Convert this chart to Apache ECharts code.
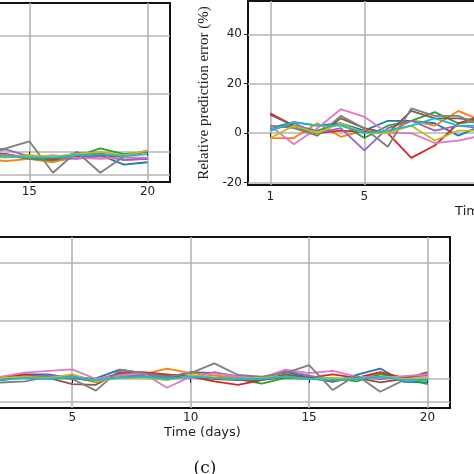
<!DOCTYPE html>
<html>
<head>
<meta charset="utf-8">
<script src="https://cdn.jsdelivr.net/npm/echarts@6/dist/echarts.min.js"></script>
<style>
  html, body { margin: 0; padding: 0; background: #fff; }
  #chart { width: 474px; height: 474px; }
</style>
</head>
<body>
<div id="chart"></div>
<script>
// days on the x axis, shared by all three panels
const days = [1, 2, 3, 4, 5, 6, 7, 8, 9, 10, 11, 12, 13, 14, 15, 16, 17, 18, 19, 20];
const xTicks = [1, 5, 10, 15, 20];
const yTicksWide = [-20, 0, 50, 100];
const yTicksNarrow = [-20, 0, 20, 40];
const colors = ['#1f77b4', '#ff7f0e', '#2ca02c', '#d62728', '#9467bd',
                '#8c564b', '#e377c2', '#7f7f7f', '#bcbd22', '#17becf'];

// panel (a), only the right end is visible
const panelA = [
  [1, 2, -1, 3, 0, 2, -2, 1, 0, -1, 2, 0, -2, -3, -6, -8, -5, -3, -11, -9],
  [0, -2, 1, 2, -1, 0, 3, -1, 1, 0, -2, 1, -6, -8, -6, -9, -4, -2, -3, 0],
  [2, 0, 1, -1, 2, 1, 0, 2, -1, 1, 0, -1, 0, -2, -6, -7, -4, 3, -2, 0],
  [-1, 1, 0, 2, 1, -2, 1, 0, 2, -1, 1, 0, -3, -4, -3, -6, -4, -1, -7, -6],
  [0, 2, 1, 0, -1, 1, 2, 0, -1, 2, 0, 1, -1, 2, -4, -5, -6, -4, -7, -6],
  [1, -1, 2, 0, 1, 0, -1, 2, 1, 0, -1, 1, -2, -2, -5, -6, -1, -3, -4, 1],
  [2, 0, -1, 1, 3, 0, 1, -2, 0, 2, 1, -1, -3, -3, -5, -3, -5, -6, -5, -5],
  [0, 3, -2, 1, 0, -3, 2, 1, -1, 0, 2, -1, 0, 3, 9, -18, 0, -18, -4, 1],
  [-1, 1, 0, 2, -1, 1, 0, -1, 2, 1, 0, 1, -4, -5, -3, -4, -2, 0, -3, 1],
  [0, 1, 2, -1, 0, 1, -1, 0, 1, -2, 0, 1, -3, -4, -5, -5, -3, -2, -4, -2]
];

// panel (b), only the left part is visible
const panelB = [
  [2, 4.5, 3, 4, 1, 5, 5, 4, -1, 3, 2, 1, 4, 2, 0, 3, 1, 2, 0, 1],
  [-2, -2, 4, -1.5, 1, 0, 5, 3, 9, 5, 2, 0, 3, 1, 2, -1, 2, 1, 0, 2],
  [2, 3, 1, 4, -2, 3, 5, 8.5, 4, 5, 2, 3, 1, 2, 0, 2, 1, 3, 1, 0],
  [8, 3, 0, 1, 0.5, 0, -10, -5, 4, 7, 3, 1, 2, 0, 3, 1, -2, 2, 1, 0],
  [1, 4, 0, 2, -7, 2, 5, 1, 3, 2, 1, 3, 0, 2, 1, 0, 2, 1, 3, 1],
  [7.5, 3, -1, 6, 2, 0, 9, 6, 6, 5, 2, 3, 1, 2, 3, 1, 0, 2, 1, 2],
  [3, -4.5, 2, 9.7, 6.6, 0, 0, -4, -3, -1, 2, 1, 3, 0, 2, 1, 0, 3, 1, 0],
  [3, 2, -1, 7, 2, -5.5, 10, 7, 7, 3, 1, 4, 0, 2, 5, 1, -2, 3, 1, 2],
  [-2, 3, 0, 4, 0, 0, 3, -3, 1, 1, 2, 0, 1, 2, 0, 1, 2, 0, 1, 0],
  [1, 4.5, 3, 3, 0, 1, 3, 6, 3, 3, 1, 2, 0, 1, 2, 0, 1, 2, 0, 1]
];

// panel (c)
const panelC = [
  [0, 0.5, 4, 4, 0.5, 0.5, 8, 5, 1.5, 6, 5, 2.5, 1.5, 6, 1.5, -2.5, 3.5, 9, -2.5, -3],
  [1, -1, 3, 2, 2, -3, 3, 4, 9, 5, 3, 1, 0, 3, 1, 0, 0, 5, 1, 0],
  [-1, 0, 1, 2, 1, -2, 3, 2, 1, 3, 1, 0, -4, 1, 0, 1, -2, 4, 1, -4.5],
  [0, 1, 4, 2, 3, -1, 5, 6, 4, 2, -2, -5, -1, 2, 1, 4, 1, 6, 1, 4],
  [1, 0, 2, 3, 1, -1, 4, 3, 2, 1, 6, 2, 1, 7, 3, -1, 2, 0, 2, 3],
  [-2, -1, 2, 1, -4.5, -5, 6, 5, 3, 2, 0, -1, -1, 4, 1, -2, 1, -3, 0, 6],
  [-1, 2, 5.5, 7, 8.3, 0, 3, 5, -7.5, 2, 5, 2, 1, 8, 5, 7, 2, 1, 2.5, 4],
  [-4, -3, -2, 2, 0, -10, 8, 5, 2, 5, 13.5, 3.5, 2, 5, 12, -9.5, 3.5, -11, -1, 0],
  [0, 1, 2, 1, 4, -2, 1, 1, -1, 3, 1, 0, 1, 2, 0, 1, 0, 2, 0, 1],
  [-2, -1, 1, 0, 2, -1, 1, 2, 0, 2, 1, 0, 0, 2, 0, -1, 0, 2, -1, -1]
];

const tickFont = { fontFamily: 'DejaVu Sans', fontSize: 12, color: '#222' };
const gridLine = { show: true, lineStyle: { color: '#b4b4b4', width: 1.6 } };

function xAxisFor(idx, margin, nameGap) {
  return {
    type: 'value', gridIndex: idx, min: 0.05, max: 20.95,
    name: 'Time (days)', nameLocation: 'middle', nameGap: nameGap,
    nameTextStyle: { fontFamily: 'DejaVu Sans', fontSize: 13, color: '#222' },
    axisLine: { show: false },
    axisTick: { show: true, length: 4, customValues: xTicks, lineStyle: { color: '#222' } },
    axisLabel: Object.assign({ customValues: xTicks, margin: margin }, tickFont),
    splitLine: gridLine
  };
}

function yAxisFor(idx, min, max, ticks, extra) {
  return Object.assign({
    type: 'value', gridIndex: idx, min: min, max: max,
    axisLine: { show: false },
    axisTick: { show: true, length: 4, customValues: ticks, lineStyle: { color: '#222' } },
    axisLabel: Object.assign({ customValues: ticks, margin: 6 }, tickFont),
    splitLine: gridLine
  }, extra || {});
}

function linesFor(data, idx) {
  return data.map((vals, i) => ({
    name: 'run ' + (i + 1),
    type: 'line',
    xAxisIndex: idx, yAxisIndex: idx,
    data: days.map((d, j) => [d, vals[j]]),
    showSymbol: false,
    color: colors[i],
    lineStyle: { width: 1.8 },
    clip: true
  }));
}

const frame = {
  show: true, borderColor: '#111', borderWidth: 2, backgroundColor: 'transparent',
  containLabel: false, outerBoundsMode: 'none'
};

const chart = echarts.init(document.getElementById('chart'));
chart.setOption({
  animation: false,
  backgroundColor: '#fff',
  title: {
    text: '(c)', left: 200, top: 455, textAlign: 'center',
    textStyle: { fontFamily: 'DejaVu Serif', fontSize: 17, fontWeight: 'normal', color: '#111' }
  },
  grid: [
    Object.assign({ left: -324, top: 3, width: 494, height: 179 }, frame),
    Object.assign({ left: 248, top: 1, width: 491, height: 184 }, frame),
    Object.assign({ left: -45, top: 237, width: 495, height: 171 }, frame)
  ],
  xAxis: [
    xAxisFor(0, 4, 20),
    xAxisFor(1, 6, 20),
    xAxisFor(2, 4, 18)
  ],
  yAxis: [
    yAxisFor(0, -26, 128, yTicksWide),
    yAxisFor(1, -21, 53.5, yTicksNarrow, {
      name: 'Relative prediction error (%)', nameLocation: 'middle', nameGap: 32,
      nameTextStyle: { fontFamily: 'Liberation Serif', fontSize: 15, color: '#222' }
    }),
    yAxisFor(2, -25, 122.4, yTicksWide)
  ],
  series: [].concat(linesFor(panelA, 0), linesFor(panelB, 1), linesFor(panelC, 2))
});
</script>
</body>
</html>
